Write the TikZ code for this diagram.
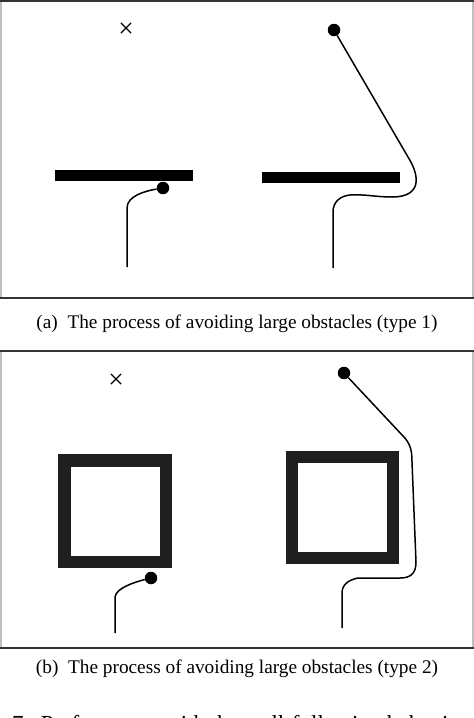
\documentclass[tikz,border=0pt]{standalone}
\usepackage{fontspec}
\setmainfont{Liberation Serif}
\usetikzlibrary{positioning,shapes.misc}

\begin{document}
\begin{tikzpicture}[
x=1pt, y=-1pt,
sideline/.style={draw=black!25, line width=2pt},
edgeline/.style={draw=black!80, line width=2.5pt},
wall/.style={fill=black},
ring/.style={draw=black!88, line width=12.5pt},
track/.style={draw=black, line width=1.5pt},
robot/.style={circle, fill=black, inner sep=0pt, minimum size=12.5pt},
target/.style={draw, cross out, inner sep=0pt, minimum size=9pt, line width=1.2pt},
caption/.style={font=\fontsize{19.3}{22}\selectfont, inner sep=0pt, anchor=base}
]
\useasboundingbox (0,0) rectangle (474,718);

% frames
\draw[sideline] (1,1) -- (1,298) (473,1) -- (473,298);
\draw[edgeline] (0,1) -- (474,1) (0,298) -- (474,298);
\draw[sideline] (1,351) -- (1,648) (473,351) -- (473,648);
\draw[edgeline] (0,351) -- (474,351) (0,648) -- (474,648);

% (a) type 1
\node[target] (goalA) at (126,28) {};
\fill[wall] (55,170) rectangle (193,181);
\fill[wall] (262,172) rectangle (400,183);
\node[robot] (robotA) at (163,188) {};
\node[robot] (robotB) at (334,30) {};
\coordinate (startA) at (127,267);
\coordinate (startB) at (333,268);
\draw[track] (startA) -- (127,208) .. controls (127,196) and (145,191) .. (robotA);
\draw[track] (robotB) -- (408,157) .. controls (420,176) and (422,197) .. (392,197)
  .. controls (375,197) and (365,194) .. (350,195)
  .. controls (340,196) and (333,202) .. (333,212) -- (startB);
\node[caption] (capA) at (237,328) {(a)\enspace The process of avoiding large obstacles (type 1)};

% (b) type 2
\node[target] (goalB) at (116,379) {};
\draw[ring] (64.25,460.25) rectangle (165.75,561.75);
\draw[ring] (292,457) rectangle (393,558);
\node[robot] (robotC) at (151,578) {};
\node[robot] (robotD) at (344,373) {};
\coordinate (startC) at (115,633);
\coordinate (startD) at (342,628);
\draw[track] (startC) -- (115,597) .. controls (116,588) and (135,582) .. (robotC);
\draw[track] (robotD) -- (403,436) .. controls (411,444) and (412,452) .. (412,462)
  -- (416,562) .. controls (416,574) and (410,578) .. (400,578) -- (358,578)
  .. controls (348,580) and (342,585) .. (342,593) -- (startD);
\node[caption] (capB) at (237,673) {(b)\enspace The process of avoiding large obstacles (type 2)};

% next caption, cut off at the bottom edge
\node[caption, anchor=base west, font=\fontsize{23}{26}\selectfont] (capNext) at (12,731) {7.\enspace Performance with the wall-following behavior};
\end{tikzpicture}
\end{document}
